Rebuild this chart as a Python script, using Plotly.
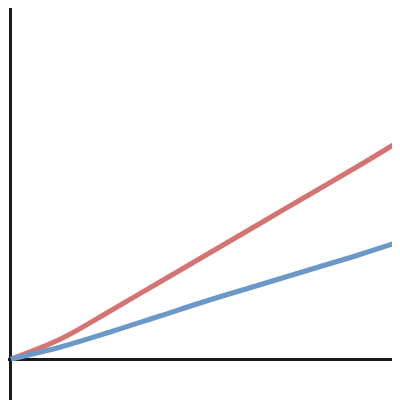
import plotly.graph_objects as go

x = [0, 50, 100, 150, 200, 250, 300, 350, 400]
red = [0, 20, 48, 77, 106, 135, 164, 193, 223]
blue = [0, 12, 27, 43, 59, 74, 89, 104, 120]

fig = go.Figure()
fig.add_trace(go.Scatter(x=x, y=red, mode="lines", line=dict(color="#d57371", width=5, shape="spline", smoothing=1.0)))
fig.add_trace(go.Scatter(x=x, y=blue, mode="lines", line=dict(color="#6a98c8", width=5, shape="spline", smoothing=1.0)))
fig.update_layout(
    width=400, height=400, margin=dict(l=0, r=0, t=0, b=0, pad=0, autoexpand=False),
    plot_bgcolor="white", paper_bgcolor="white", showlegend=False,
    xaxis=dict(range=[-3, 400], showgrid=False, showticklabels=False, zeroline=True,
               zerolinecolor="#1a1a1a", zerolinewidth=3, automargin=False),
    yaxis=dict(range=[-49, 351], showgrid=False, showticklabels=False, zeroline=True,
               zerolinecolor="#1a1a1a", zerolinewidth=3, automargin=False),
)
fig.write_html("out.html", config={"responsive": False})
